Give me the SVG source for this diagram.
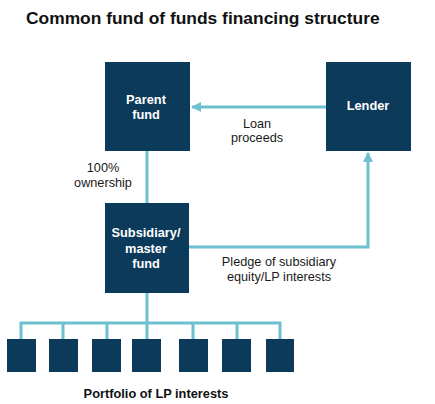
<svg xmlns="http://www.w3.org/2000/svg" width="435" height="404" viewBox="0 0 435 404">
<defs>
<style>
.box{fill:#0c3a5b}
.ln{fill:none;stroke:#6cc0d0;stroke-width:3}
.bt{font-family:"Liberation Sans",Arial,sans-serif;font-weight:bold;font-size:12.8px;fill:#ffffff;text-anchor:middle}
.lb{font-family:"Liberation Sans",Arial,sans-serif;font-size:12.7px;fill:#1a1a1a;text-anchor:middle}
.title{font-family:"Liberation Sans",Arial,sans-serif;font-weight:bold;font-size:17.4px;fill:#111111}
</style>
<marker id="ah" viewBox="0 0 10 10" refX="9" refY="5" markerWidth="3.4" markerHeight="3.4" orient="auto">
<path d="M0,0 L10,5 L0,10 z" fill="#6cc0d0"/>
</marker>
</defs>
<rect width="435" height="404" fill="#ffffff"/>
<text class="title" x="26" y="24">Common fund of funds financing structure</text>
<g id="connectors">
<line class="ln" x1="326" y1="107" x2="192" y2="107" marker-end="url(#ah)"/>
<line class="ln" x1="147" y1="151" x2="147" y2="203"/>
<polyline class="ln" points="189,247 368,247 368,153" marker-end="url(#ah)"/>
<line class="ln" x1="147" y1="293" x2="147" y2="339"/>
<polyline class="ln" points="21,339 21,323 280,323 280,339"/>
<line class="ln" x1="63" y1="323" x2="63" y2="339"/>
<line class="ln" x1="107" y1="323" x2="107" y2="339"/>
<line class="ln" x1="193" y1="323" x2="193" y2="339"/>
<line class="ln" x1="237" y1="323" x2="237" y2="339"/>
</g>
<g id="parent">
<rect class="box" x="105" y="62" width="85" height="89"/>
<text class="bt" x="146" y="104">Parent</text>
<text class="bt" x="146" y="119">fund</text>
</g>
<g id="lender">
<rect class="box" x="326" y="62" width="85" height="89"/>
<text class="bt" x="368" y="110">Lender</text>
</g>
<g id="subsidiary">
<rect class="box" x="105" y="203" width="84" height="90"/>
<text class="bt" x="146" y="237">Subsidiary/</text>
<text class="bt" x="146" y="253">master</text>
<text class="bt" x="146" y="268">fund</text>
</g>
<g id="portfolio">
<rect class="box" x="7" y="339" width="29" height="33"/>
<rect class="box" x="49" y="339" width="29" height="33"/>
<rect class="box" x="92" y="339" width="29" height="33"/>
<rect class="box" x="132" y="339" width="29" height="33"/>
<rect class="box" x="179" y="339" width="29" height="33"/>
<rect class="box" x="222" y="339" width="29" height="33"/>
<rect class="box" x="266" y="339" width="28" height="33"/>
</g>
<g id="labels">
<text class="lb" x="257" y="128">Loan</text>
<text class="lb" x="257" y="142">proceeds</text>
<text class="lb" x="103" y="172">100%</text>
<text class="lb" x="103" y="187">ownership</text>
<text class="lb" x="279" y="266">Pledge of subsidiary</text>
<text class="lb" x="279" y="281">equity/LP interests</text>
<text class="bt" x="156" y="398" style="fill:#111111">Portfolio of LP interests</text>
</g>
</svg>
